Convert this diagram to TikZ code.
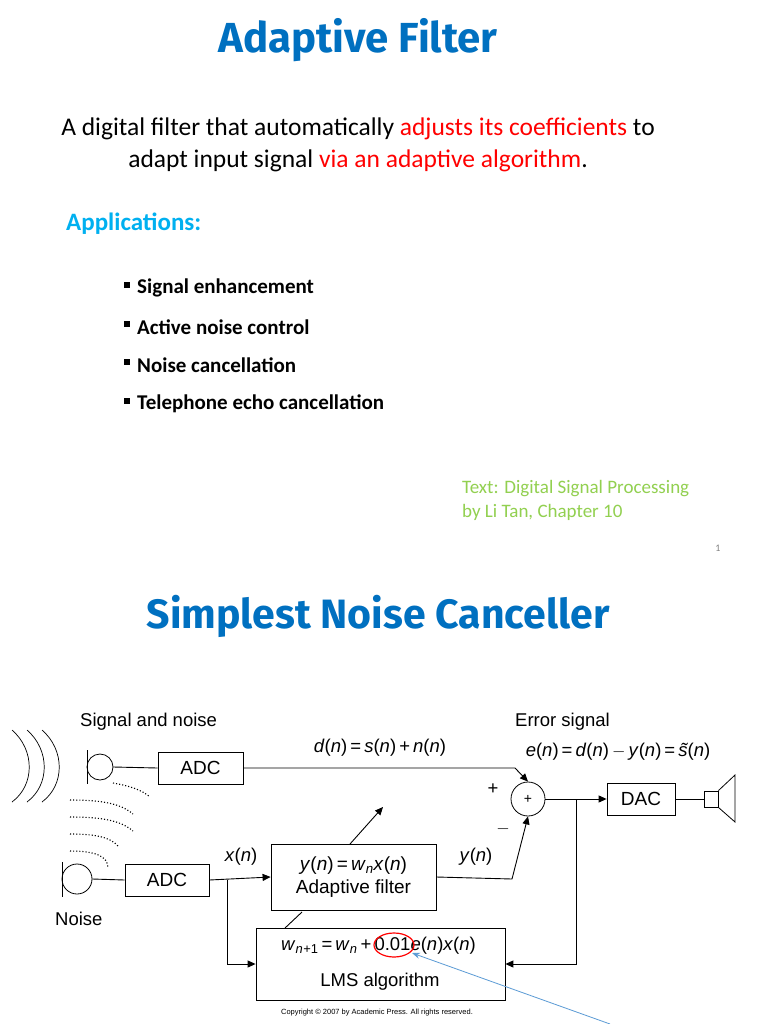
\documentclass[tikz,border=0pt]{standalone}
\usepackage{fontspec}
\setmainfont{Carlito}
\newfontfamily\ttl{Fira Sans}
\newfontfamily\hv{Liberation Sans}
\usetikzlibrary{arrows.meta,shapes.geometric}
\definecolor{tblue}{RGB}{0,112,192}
\definecolor{ablue}{RGB}{0,176,240}
\definecolor{tgreen}{RGB}{146,208,80}
\definecolor{lblue}{RGB}{91,155,213}
\newcommand{\iv}[1]{\textit{#1}}
\newcommand{\sbs}[1]{\textsubscript{\textit{#1}}}
\begin{document}
\begin{tikzpicture}[x=1pt,y=-1pt,
  title/.style={font=\ttl\bfseries\fontsize{41}{48}\selectfont,text=tblue},
  body/.style={font=\fontsize{25.5}{30}\selectfont},
  bul/.style={anchor=west,font=\bfseries\fontsize{21}{25}\selectfont},
  blk/.style={draw,line width=0.8pt,minimum height=32pt,font=\hv\fontsize{19}{22}\selectfont,inner sep=0pt},
  dg/.style={font=\hv\fontsize{18.5}{22}\selectfont,inner sep=0pt},
  ln/.style={line width=0.9pt},
  ar/.style={ln,-{Triangle[length=8pt,width=7pt]}}]
\useasboundingbox (0,0) rectangle (768,1024);
\fill[white] (0,0) rectangle (768,1024);
\node[title,font=\ttl\bfseries\fontsize{42}{48}\selectfont] (t1) at (358,40) {Adaptive Filter};
\node[body] (l1) at (358,129) {A digital filter that automatically \textcolor{red}{adjusts its coefficients} to};
\node[body] (l2) at (358,161) {adapt input signal \textcolor{red}{via an adaptive algorithm}.};
\node[anchor=west,font=\bfseries\fontsize{25}{30}\selectfont,text=ablue,inner sep=0pt] (ap) at (66,224) {Applications:};
\foreach \y/\t/\n in {288/Signal enhancement/b1,327/Active noise control/b2,365/Noise cancellation/b3,404/Telephone echo cancellation/b4}{
  \fill (124,\y-6) rectangle (130,\y);
  \node[bul,inner sep=0pt] (\n) at (137,\y) {\t};
}
\node[anchor=west,text=tgreen,font=\fontsize{19}{22}\selectfont,inner sep=0pt] (g1) at (462,489) {Text: Digital Signal Processing};
\node[anchor=west,text=tgreen,font=\fontsize{19}{22}\selectfont,inner sep=0pt] (g2) at (462,512) {by Li Tan, Chapter 10};
\node[text=gray,font=\fontsize{10}{12}\selectfont] (pg) at (718,548) {1};
\node[title] (t2) at (378,616) {Simplest Noise Canceller};
% diagram
\node[dg,anchor=west] (sn) at (80,722) {Signal and noise};
\node[dg,anchor=west] (es) at (515,722) {Error signal};
\node[dg] (dn) at (380,748) {\iv{d}(\iv{n})\,=\,\iv{s}(\iv{n})\,+\,\iv{n}(\iv{n})};
\node[dg] (en) at (618,752) {\iv{e}(\iv{n})\,=\,\iv{d}(\iv{n})\,$-$\,\iv{y}(\iv{n})\,=\,\iv{\~{s}}(\iv{n})};
\node[dg,anchor=west] (ns) at (55,919) {Noise};
\foreach \r in {0,15,30}{\draw[line width=0.7pt] (12+\r,730) .. controls (35+\r,750) and (35+\r,785) .. (12+\r,802);}
% mics
\draw[line width=0.8pt] (87,750) -- (87,784);
\node[draw,circle,line width=0.8pt,minimum size=26pt,inner sep=0pt] (m1) at (100,767) {};
\draw[line width=0.8pt] (62,862) -- (62,897);
\node[draw,circle,line width=0.8pt,minimum size=30pt,inner sep=0pt] (m2) at (77,879) {};
\draw[dotted,line width=1.1pt] (113,783) .. controls (130,786) and (142,790) .. (150,797);
\draw[dotted,line width=1.1pt] (70,800) .. controls (100,800) and (120,803) .. (133,814);
\draw[dotted,line width=1.1pt] (70,817) .. controls (100,817) and (120,820) .. (133,831);
\draw[dotted,line width=1.1pt] (70,834) .. controls (95,834) and (110,837) .. (118,846);
\draw[dotted,line width=1.1pt] (70,851) .. controls (95,851) and (108,856) .. (108,868);
\node[blk,minimum width=85pt] (adc1) at (200.5,768) {ADC};
\node[blk,minimum width=84pt] (adc2) at (167,880) {ADC};
\node[draw,circle,line width=0.8pt,minimum size=34pt,inner sep=0pt,font=\hv\fontsize{14}{16}\selectfont] (sum) at (528,799) {+};
\node[blk,minimum width=68pt] (dac) at (641,799) {DAC};
\node[draw,line width=0.8pt,minimum width=14pt,minimum height=16pt,inner sep=0pt] (spk) at (711,799) {};
\draw[line width=0.8pt] (spk.north east) -- (735,775) -- (735,822) -- (spk.south east);
\node[blk,minimum width=165pt,minimum height=66pt,align=center] (af) at (353.5,877) {\iv{y}(\iv{n})\,=\,\iv{w}\sbs{n}\iv{x}(\iv{n})\\[1pt]Adaptive filter};
\node[blk,minimum width=249pt,minimum height=72pt] (lms) at (380.5,964) {};
\node[dg,anchor=west] (eq) at (281,946) {\iv{w}\sbs{n}\textsubscript{+1}\,=\,\iv{w}\sbs{n}\,+\,0.01\iv{e}(\iv{n})\iv{x}(\iv{n})};
\node[dg] (la) at (380,982) {LMS algorithm};
\node[dg] (pl) at (493,789) {+};
\node[dg] (mi) at (503,829) {$-$};
\node[dg] (xn) at (241,857) {\iv{x}(\iv{n})};
\node[dg] (yn) at (476,857) {\iv{y}(\iv{n})};
\coordinate (j1) at (515,768);
\coordinate (j2) at (512,879);
\coordinate (jx) at (227,880);
\coordinate (je) at (576,799);
% connectors
\draw[ln] (m1.east) -- (adc1.west);
\draw[ln] (m2.east) -- (adc2.west);
\draw[ar] (adc1.east) -- (j1) -- (sum.north);
\draw[ar] (adc2.east) -- (af.west);
\draw[ar] (jx) |- (lms.west);
\draw[ar] (af.east) -- (j2) -- (sum.south);
\draw[ar] (sum.east) -- (dac.west);
\draw[ln] (dac.east) -- (spk.west);
\draw[ar] (je) |- (lms.east);
\coordinate (a1) at (350,844);
\coordinate (a2) at (383,807);
\draw[ar] (a1) -- (a2);
\coordinate (b1) at (302,912);
\coordinate (b2) at (285,928);
\draw[ln] (b1) -- (b2);
\node[draw=red,line width=1.2pt,ellipse,minimum width=40pt,minimum height=24pt] (ov) at (394,945) {};
\coordinate (bl) at (610,1024);
\draw[lblue,line width=0.8pt,-{Stealth[length=8pt]}] (bl) -- (412,953);
\node[font=\hv\fontsize{7.5}{8}\selectfont] (cp) at (377,1013) {Copyright \textcopyright\ 2007 by Academic Press. All rights reserved.};
\end{tikzpicture}
\end{document}
